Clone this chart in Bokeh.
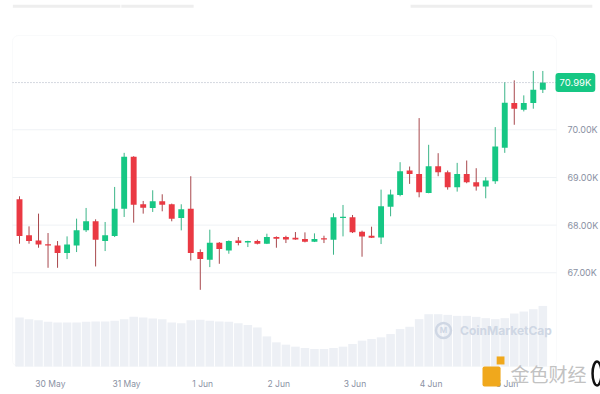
from bokeh.plotting import figure
from bokeh.models import Range1d, FixedTicker, Label, BoxAnnotation
from bokeh.embed import file_html
from bokeh.resources import INLINE

# ---- data (BTC/USD, 3h candles) ----
opens = [68542, 67785, 67680, 67596, 67575, 67414, 67575, 67890, 68080, 67666,
         67771, 68346, 69432, 68437, 68360, 68500, 68437, 68150, 68346, 67435,
         67273, 67631, 67470, 67680, 67638, 67666, 67610, 67750, 67750, 67736,
         67708, 67652, 67722, 67694, 68150, 68164, 67862, 67778, 67743, 68388,
         68633, 69145, 69075, 68675, 69236, 69110, 68794, 69075, 68900, 68808,
         68921, 69622, 70561, 70421, 70561, 70841]
highs = [68605, 67974, 68241, 67834, 67666, 67764, 68136, 68360, 68122, 68066,
         68801, 69516, 69446, 68507, 68731, 68647, 68451, 68437, 69026, 67491,
         67904, 67645, 67680, 67750, 67673, 67694, 67820, 67764, 67778, 67855,
         67848, 67827, 67778, 68248, 68423, 68213, 67883, 67967, 68745, 68745,
         69320, 69229, 70245, 69685, 69509, 69145, 69306, 69355, 69194, 69005,
         70056, 71002, 71037, 70722, 71234, 71234]
lows = [67610, 67610, 67526, 67105, 67105, 67287, 67435, 67855, 67133, 67456,
        67750, 68171, 68052, 68241, 68276, 68290, 68080, 67890, 67259, 66643,
        67119, 67189, 67400, 67575, 67540, 67596, 67603, 67526, 67624, 67694,
        67638, 67645, 67624, 67379, 67764, 67834, 67337, 67729, 67603, 68185,
        68605, 68865, 68584, 68668, 69026, 68745, 68703, 68879, 68724, 68563,
        68865, 69516, 70105, 70385, 70442, 70771]
closes = [67771, 67666, 67596, 67575, 67414, 67596, 67890, 68080, 67694, 67785,
          68346, 69432, 68430, 68367, 68500, 68430, 68136, 68332, 67414, 67287,
          67631, 67498, 67666, 67624, 67666, 67610, 67750, 67715, 67701, 67701,
          67652, 67708, 67701, 68164, 68178, 67848, 67764, 67736, 68395, 68640,
          69131, 69075, 68689, 69236, 69110, 68794, 69075, 68900, 68808, 68935,
          69650, 70568, 70442, 70561, 70841, 70990]
volumes = [14.8, 14.3, 14.0, 13.5, 13.3, 13.3, 13.3, 13.5, 13.6, 13.6,
           13.8, 14.3, 15.0, 14.8, 14.5, 14.3, 13.3, 13.1, 14.0, 14.1,
           13.8, 13.6, 13.5, 13.1, 12.5, 11.8, 9.1, 7.3, 6.6, 6.0,
           5.6, 5.3, 5.3, 5.6, 6.0, 6.8, 7.8, 8.3, 8.8, 9.8,
           11.3, 12.0, 14.3, 15.8, 15.8, 15.6, 15.3, 15.3, 15.0, 14.6,
           14.3, 14.6, 16.0, 16.6, 17.3, 18.3]
day_labels = ["30 May", "31 May", "1 Jun", "2 Jun", "3 Jun", "4 Jun", "5 Jun"]
first_day_pos = 3.25
candles_per_day = 8
price_ticks = [67000, 68000, 69000, 70000]
price_tick_labels = ["67.00K", "68.00K", "69.00K", "70.00K"]

GREEN = "#16c784"
RED = "#ea3943"
GREEN_WICK = "#3bb588"
RED_WICK = "#a8484d"
FONT = "Inter"
GREY_TXT = "#8a91a3"
WM = "#cfd7e4"
LOGO = "#f0a81c"

# chart panel extents (in index / price units)
X_LEFT, X_RIGHT = -0.736, 56.437
P_TOP, P_BOTTOM = 71978, 65035

idx = list(range(len(opens)))
is_up = [c >= o for o, c in zip(opens, closes)]
body_col = [GREEN if u else RED for u in is_up]
wick_col = [GREEN_WICK if u else RED_WICK for u in is_up]
min_body = 25
tops, bots = [], []
for o, c in zip(opens, closes):
    t, b = max(o, c), min(o, c)
    if t - b < min_body:
        m = (t + b) / 2
        t, b = m + min_body / 2, m - min_body / 2
    tops.append(t)
    bots.append(b)

p = figure(width=600, height=394, output_backend="svg", toolbar_location=None,
           x_range=Range1d(-1.997, 61.062), y_range=Range1d(64447, 72712),
           y_axis_location="right", x_axis_location="below",
           min_border=0, min_border_left=0, min_border_right=0,
           min_border_top=0, min_border_bottom=0,
           background_fill_color="white", border_fill_color="white")
p.outline_line_color = None
p.xgrid.visible = False
p.ygrid.visible = False

# faint top controls (cropped page chrome)
p.segment(x0=[-0.7, 10.7, 41.1], x1=[10.6, 18.3, 60.2], y0=[72590] * 3, y1=[72590] * 3,
          line_color="#eeeeee", line_width=3)

# chart panel border
p.add_layout(BoxAnnotation(left=X_LEFT, right=X_RIGHT, top=P_TOP, bottom=P_BOTTOM,
                           fill_alpha=0, line_color="#eceff3", line_width=1,
                           border_radius=6))

# horizontal grid lines
p.segment(x0=[X_LEFT] * len(price_ticks), x1=[X_RIGHT] * len(price_ticks),
          y0=price_ticks, y1=price_ticks, line_color="#eff2f5", line_width=1)

# axes placed at the panel edges
p.yaxis.fixed_location = X_RIGHT
p.yaxis.ticker = FixedTicker(ticks=price_ticks)
p.yaxis.major_label_overrides = {t: l for t, l in zip(price_ticks, price_tick_labels)}
day_ticks = [first_day_pos + candles_per_day * k for k in range(len(day_labels))]
p.xaxis.fixed_location = P_BOTTOM
p.xaxis.ticker = FixedTicker(ticks=day_ticks)
p.xaxis.major_label_overrides = {t: l for t, l in zip(day_ticks, day_labels)}
for ax in (p.xaxis, p.yaxis):
    ax.axis_line_color = None
    ax.major_tick_line_color = None
    ax.minor_tick_line_color = None
    ax.major_label_text_font = FONT
    ax.major_label_text_color = GREY_TXT
p.yaxis.major_label_text_font_size = "9px"
p.xaxis.major_label_text_font_size = "8.5px"
p.yaxis.major_label_standoff = 5
p.xaxis.major_label_standoff = 7

# volume
p.extra_y_ranges = {"vol": Range1d(-8.46, 110.57)}
p.vbar(x=idx, top=volumes, bottom=0, width=0.9, y_range_name="vol",
       fill_color="#edf0f5", line_color=None)

# CoinMarketCap watermark
p.scatter(x=[44.56], y=[65790], marker="circle", size=15, fill_color=None,
          line_color=WM, line_width=2.5)
p.add_layout(Label(x=44.56, y=65790, text="M", text_align="center", text_baseline="middle",
                   text_font=FONT, text_font_size="8px", text_font_style="bold",
                   text_color=WM))
p.add_layout(Label(x=46.3, y=65790, text="CoinMarketCap", text_align="left",
                   text_baseline="middle", text_font=FONT, text_font_size="12px",
                   text_font_style="bold", text_color=WM))

# candles
p.segment(x0=idx, y0=lows, x1=idx, y1=highs, line_color=wick_col, line_width=1)
p.vbar(x=idx, top=tops, bottom=bots, width=0.62, fill_color=body_col, line_color=None)

# last price dotted line + tag
p.segment(x0=[X_LEFT], x1=[X_RIGHT], y0=[closes[-1]], y1=[closes[-1]],
          line_color="#a9b1bf", line_dash="1 2", line_width=1)
p.add_layout(Label(x=56.33, y=closes[-1], text=f"{closes[-1] / 1000:.2f}K",
                   text_align="left", text_baseline="middle", text_font=FONT,
                   text_font_size="9.5px", text_color="white",
                   background_fill_color=GREEN, padding=4, border_radius=3))

# 金色财经 watermark (bottom right)
p.add_layout(BoxAnnotation(left=48.66, right=50.56, bottom=64615, top=65035,
                           fill_color=LOGO, fill_alpha=1, line_color=None,
                           border_radius=2))
p.add_layout(BoxAnnotation(left=50.15, right=50.97, bottom=65077, top=65245,
                           fill_color=LOGO, fill_alpha=1, line_color=None))
p.add_layout(Label(x=51.6, y=64888, text="金色财经", text_align="left", text_baseline="middle",
                   text_font="Noto Sans CJK SC", text_font_size="19px", text_color="#c2c2c2"))
p.ellipse(x=[60.7], y=[64888], width=9, height=500, width_units="screen",
          fill_color=None, line_color="#111111", line_width=2.5)

open("out.html", "w").write(file_html(p, INLINE))
